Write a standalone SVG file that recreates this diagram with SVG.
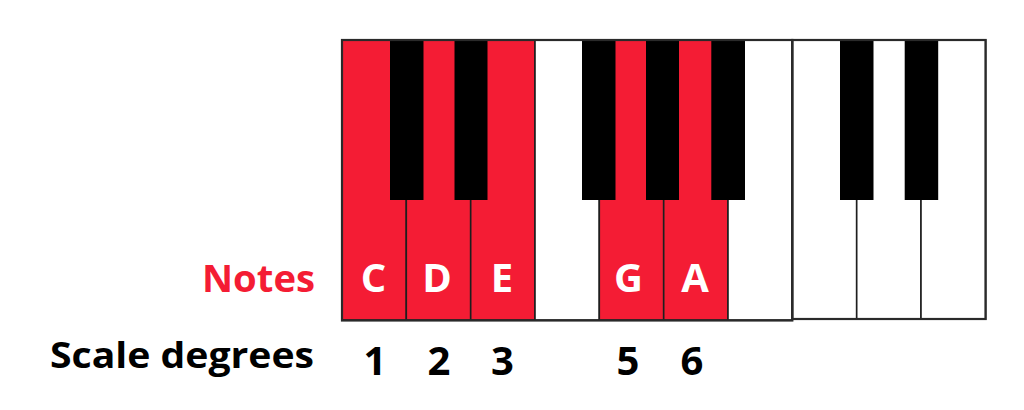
<svg xmlns="http://www.w3.org/2000/svg" width="1024" height="410" viewBox="0 0 1024 410">
  <style>
    .w { fill: #ffffff; stroke: #1e1e1e; stroke-width: 1.6; }
    .r { fill: #f41c34; stroke: #1e1e1e; stroke-width: 1.6; }
    .b { fill: #000000; }
    .frame { fill: none; stroke: #2a2a2a; stroke-width: 2.2; }
    .lbl { font-family: "Open Sans", "Noto Sans", sans-serif; font-weight: 700; }
    .key { fill: #ffffff; font-size: 40px; text-anchor: middle; }
    .num { fill: #000000; font-size: 40px; text-anchor: middle; }
  </style>
  <rect width="1024" height="410" fill="#ffffff"/>
  <g id="keyboard">
    <g id="white-keys">
      <rect id="key-C1" class="r" x="342" y="40" width="64.3" height="280"/>
      <rect id="key-D1" class="r" x="406.3" y="40" width="64.4" height="280"/>
      <rect id="key-E1" class="r" x="470.7" y="40" width="64.3" height="280"/>
      <rect id="key-F1" class="w" x="535" y="40" width="64.3" height="280"/>
      <rect id="key-G1" class="r" x="599.3" y="40" width="64.4" height="280"/>
      <rect id="key-A1" class="r" x="663.7" y="40" width="64.3" height="280"/>
      <rect id="key-B1" class="w" x="728" y="40" width="64.3" height="280"/>
      <rect id="key-C2" class="w" x="792.3" y="40" width="64.4" height="279"/>
      <rect id="key-D2" class="w" x="856.7" y="40" width="64.3" height="279"/>
      <rect id="key-E2" class="w" x="921" y="40" width="64.6" height="279"/>
    </g>
    <g id="black-keys">
      <rect id="key-Cs1" class="b" x="390" y="40" width="33.5" height="160"/>
      <rect id="key-Ds1" class="b" x="454.5" y="40" width="33" height="160"/>
      <rect id="key-Fs1" class="b" x="582" y="40" width="33.5" height="160"/>
      <rect id="key-Gs1" class="b" x="646" y="40" width="33" height="160"/>
      <rect id="key-As1" class="b" x="711.3" y="40" width="33.7" height="160"/>
      <rect id="key-Cs2" class="b" x="840" y="40" width="33.5" height="160"/>
      <rect id="key-Ds2" class="b" x="904.7" y="40" width="33.5" height="160"/>
    </g>
    <rect class="frame" x="342" y="40" width="450.3" height="280.5"/>
    <rect class="frame" x="792.3" y="40" width="193.3" height="279"/>
  </g>
  <g id="note-labels" class="lbl">
    <text class="key" x="373.5" y="292">C</text>
    <text class="key" x="437" y="292">D</text>
    <text class="key" x="502" y="292">E</text>
    <text class="key" x="628.5" y="292">G</text>
    <text class="key" x="695" y="292">A</text>
  </g>
  <g id="degree-labels" class="lbl">
    <text class="num" x="375" y="375">1</text>
    <text class="num" x="439" y="375">2</text>
    <text class="num" x="502.5" y="375">3</text>
    <text class="num" x="628" y="375">5</text>
    <text class="num" x="692" y="375">6</text>
  </g>
  <g id="row-titles" class="lbl">
    <text id="title-notes" x="202" y="292" font-size="38" fill="#f41c34" textLength="113" lengthAdjust="spacingAndGlyphs">Notes</text>
    <text id="title-degrees" x="50" y="367.5" font-size="35.5" fill="#000000" textLength="264" lengthAdjust="spacingAndGlyphs">Scale degrees</text>
  </g>
</svg>
